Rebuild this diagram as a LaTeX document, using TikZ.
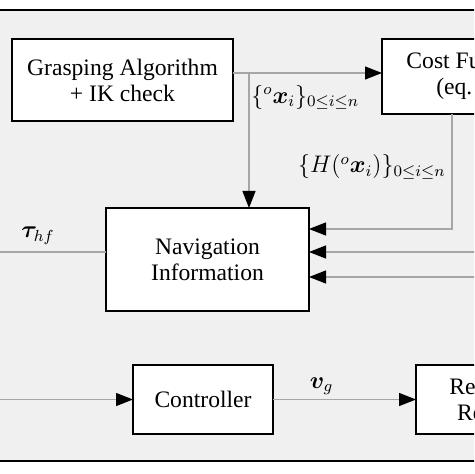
\documentclass[tikz,border=0pt]{standalone}
\usepackage{amsmath,bm}
\usepackage{fontspec}
\setmainfont{Liberation Serif}
\usetikzlibrary{positioning, arrows.meta}

\begin{document}
\begin{tikzpicture}[
    x=0.5pt, y=-0.5pt,
    >={Triangle[length=8.5pt,width=6.5pt,color=black]},
    box/.style={rectangle, draw, line width=1pt, fill=white, align=center,
                inner sep=0pt, outer sep=0pt, font=\fontsize{11.8}{13}\selectfont},
    link/.style={draw=black!35, line width=0.6pt},
    arrow/.style={link, ->},
    lbl/.style={inner sep=1pt, font=\fontsize{12}{13}\selectfont}
]
  \useasboundingbox (0,0) rectangle (474,474);
  \clip (0,0) rectangle (474,474);

  % grey frame around the loop
  \draw[fill=black!6, line width=1.2pt] (-20,10) rectangle (500,461);

  % top row: planner and cost
  \node[box, minimum width=110.5pt, minimum height=41pt] (grasp) at (122.5,80) {Grasping Algorithm\\+ IK check};
  \node[box, minimum width=91pt, minimum height=37.5pt, right=74.5pt of grasp.north east, anchor=north west] (cost) {Cost Function\\(eq.~10)};

  % middle: navigation block
  \node[box, minimum width=101.5pt, minimum height=51.5pt, below=43.5pt of grasp, xshift=42.5pt] (nav) {Navigation\\Information};

  % bottom row: controller and robot
  \node[box, minimum width=70pt, minimum height=34.5pt, below=27pt of nav, xshift=-2.25pt] (ctrl) {Controller};
  \node[box, minimum width=70pt, minimum height=34.5pt, right=71.5pt of ctrl] (robot) {Remote\\Robot};

  % helper points
  \coordinate (split) at ([xshift=8pt, yshift=1.75pt]grasp.east |- cost.west);
  \coordinate (costdown) at ([xshift=35pt]cost.south west);
  \coordinate (tauin) at (-10,252);
  \coordinate (rin1) at (480,252);
  \coordinate (rin2) at (480,277);
  \coordinate (refin) at (-10,399.5);

  % grasp candidates
  \draw[arrow] (grasp.east |- split) -- (split -| cost.west);
  \draw[arrow] (split) -- (split |- nav.north);
  \node[lbl, below right=5pt and 0pt of split] (xset) {$\{{}^{o}\bm{x}_i\}_{0\leq i\leq n}$};

  % costs back to navigation
  \draw[arrow] (costdown) |- ([yshift=15.25pt]nav.east);
  \node[lbl, anchor=east] (hset) at (448,167) {$\{H({}^{o}\bm{x}_i)\}_{0\leq i\leq n}$};

  % other inputs
  \draw[arrow] (rin1) -- (rin1 -| nav.east);
  \draw[arrow] (rin2) -- (rin2 -| nav.east);
  \draw[link] (tauin) -- (tauin -| nav.west);
  \node[lbl] (tau) at (38,236) {$\bm{\tau}_{hf}$};

  % control loop
  \draw[arrow] (refin) -- (ctrl.west);
  \draw[arrow] (ctrl.east) -- node[lbl, pos=0.34, above=1pt] (vg) {$\bm{v}_g$} (robot.west);
\end{tikzpicture}
\end{document}
